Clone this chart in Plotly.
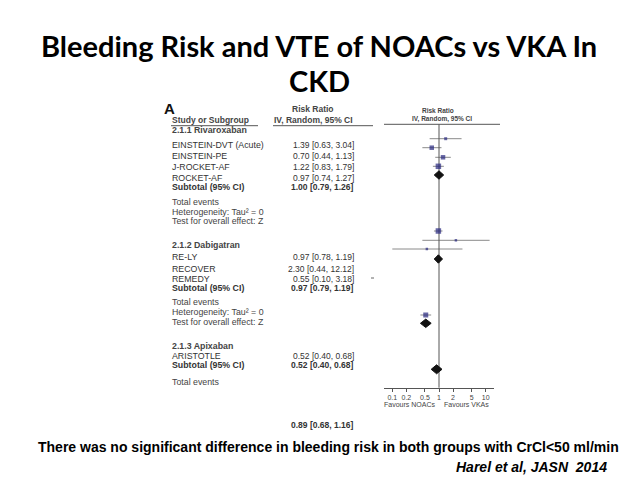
import plotly.graph_objects as go

W, H = 638, 478

# ---------------- data ----------------
studies = ["EINSTEIN-DVT (Acute)", "EINSTEIN-PE", "J-ROCKET-AF", "ROCKET-AF",
           "RE-LY", "RECOVER", "REMEDY", "ARISTOTLE"]
rr = [1.39, 0.70, 1.22, 0.97, 0.97, 2.30, 0.55, 0.52]
lo = [0.63, 0.44, 0.83, 0.74, 0.78, 0.44, 0.10, 0.40]
hi = [3.04, 1.13, 1.79, 1.27, 1.19, 12.12, 3.18, 0.68]

subgroups = ["2.1.1 Rivaroxaban", "2.1.2 Dabigatran", "2.1.3 Apixaban"]
sub_rr = [1.00, 0.97, 0.52]
sub_lo = [0.79, 0.79, 0.40]
sub_hi = [1.26, 1.19, 0.68]

overall_rr, overall_lo, overall_hi = 0.89, 0.68, 1.16

tick_vals = [0.1, 0.2, 0.5, 1, 2, 5, 10]
tick_labels = ["0.1", "0.2", "0.5", "1", "2", "5", "10"]

# ---------------- layout helpers ----------------
def px(x):
    return x / W

def py(y):
    return 1 - y / H

def fmt(r, l, h):
    return f"{r:.2f} [{l:.2f}, {h:.2f}]"

# row positions (pixel rows in the picture)
forest_study_rows = [138.7, 147.7, 157.3, 166.3, 231, 240.3, 249, 315]
forest_sub_rows = [175, 259, 323.3]
forest_overall_row = 369.3
marker_sizes = [3, 4.5, 4.5, 5.5, 5.5, 2.5, 2.5, 5]

table_study_rows = [145, 155.6, 166.5, 177.6, 256.6, 268.6, 279.2, 356.4]
table_sub_head_rows = [130, 245, 346]
table_subtotal_rows = [186.8, 288, 365.4]
overall_text_row = 425

AX_L, AX_R = 384, 494
X1 = 439.0
DEC = 46.7
log_range = [(AX_L - X1) / DEC, (AX_R - X1) / DEC]

fig = go.Figure()

# CI lines
cx, cy = [], []
for l, h, y in zip(lo, hi, forest_study_rows):
    cx += [l, h, None]
    cy += [y, y, None]
fig.add_trace(go.Scatter(x=cx, y=cy, mode="lines",
                         line=dict(color="#8a8a8a", width=1), hoverinfo="skip"))

# line of no effect
fig.add_trace(go.Scatter(x=[1, 1], y=[124.3, 387.7], mode="lines",
                         line=dict(color="#555555", width=1), hoverinfo="skip"))

# study squares
fig.add_trace(go.Scatter(x=rr, y=forest_study_rows, mode="markers",
                         marker=dict(symbol="square", size=marker_sizes,
                                     color="#26267f", line=dict(width=0)),
                         text=studies, hoverinfo="text+x"))

# diamonds
def diamond(r, l, h, y, hh=4.2):
    fig.add_trace(go.Scatter(x=[l, r, h, r, l], y=[y, y - hh, y, y + hh, y],
                             mode="lines", fill="toself", fillcolor="#111111",
                             line=dict(color="#111111", width=1), hoverinfo="skip"))

for r, l, h, y in zip(sub_rr, sub_lo, sub_hi, forest_sub_rows):
    diamond(r, l, h, y)
diamond(overall_rr, overall_lo, overall_hi, forest_overall_row, 4.5)

ann = []
TF = "Liberation Sans, Arial, sans-serif"

def txt(x, y, s, size=8, bold=False, color="#333333", anchor="left", family=TF, italic=False):
    if bold:
        s = f"<b>{s}</b>"
    if italic:
        s = f"<i>{s}</i>"
    ann.append(dict(x=px(x), y=py(y), xref="paper", yref="paper", text=s,
                    showarrow=False, xanchor=anchor, yanchor="middle",
                    font=dict(family=family, size=size, color=color),
                    borderpad=0))

# title
TITLE_F = "Lato, Open Sans, sans-serif"
txt(319, 46, "Bleeding Risk and VTE of NOACs vs VKA In", 29, True, "#000000", "center", TITLE_F)
txt(319, 81, "CKD", 29, True, "#000000", "center", TITLE_F)

NF = 8.8    # study/label font
VF = 8.5    # value font

# table header
txt(163, 108, "A", 15, True, "#111111")
txt(313, 109, "Risk Ratio", 8.5, True, "#444444", "center")
txt(171, 120, "Study or Subgroup", 8.5, True, "#444444")
txt(313, 120, "IV, Random, 95% CI", 8.5, True, "#444444", "center")
txt(438, 110, "Risk Ratio", 6.5, True, "#444444", "center")
txt(441.5, 119, "IV, Random, 95% CI", 6.5, True, "#444444", "center")

VX = 355
for s, r, l, h, y in zip(studies, rr, lo, hi, table_study_rows):
    txt(171, y, s, NF, False, "#333333")
    txt(VX, y, fmt(r, l, h), VF, False, "#333333", "right")

for g, y in zip(subgroups, table_sub_head_rows):
    txt(171, y, g, NF, True, "#444444")

for r, l, h, y in zip(sub_rr, sub_lo, sub_hi, table_subtotal_rows):
    txt(171, y, "Subtotal (95% CI)", NF, True, "#333333")
    txt(VX, y, fmt(r, l, h), VF, True, "#333333", "right")

for base in [201.6, 302.4]:
    txt(171, base, "Total events", NF, False, "#444444")
    txt(171, base + 10, "Heterogeneity: Tau² = 0", NF, False, "#444444")
    txt(171, base + 19.7, "Test for overall effect: Z", NF, False, "#444444")
txt(171, 381.6, "Total events", NF, False, "#444444")

txt(VX, overall_text_row, fmt(overall_rr, overall_lo, overall_hi), VF, True, "#333333", "right")

# favours labels
txt(436, 404, "Favours NOACs", 7, False, "#444444", "right")
txt(442.5, 404, "Favours VKAs", 7, False, "#444444", "left")

# bottom text
txt(328, 447, "There was no significant difference in bleeding risk in both groups with CrCl&lt;50 ml/min",
    14, True, "#000000", "center", "Liberation Sans, Arial, sans-serif")
txt(608, 467, "Harel et al, JASN  2014", 14, True, "#000000", "right",
    "Liberation Sans, Arial, sans-serif", italic=True)

shapes = [
    dict(type="line", xref="paper", yref="paper", x0=px(171), x1=px(258), y0=py(125.7), y1=py(125.7),
         line=dict(color="#555555", width=1)),
    dict(type="line", xref="paper", yref="paper", x0=px(273), x1=px(373), y0=py(125.7), y1=py(125.7),
         line=dict(color="#555555", width=1)),
    dict(type="line", xref="paper", yref="paper", x0=px(384), x1=px(500), y0=py(124.3), y1=py(124.3),
         line=dict(color="#555555", width=1)),
    dict(type="line", xref="paper", yref="paper", x0=px(371), x1=px(374), y0=py(278), y1=py(278),
         line=dict(color="#666666", width=1)),
]

fig.update_layout(
    width=W, height=H,
    margin=dict(l=0, r=0, t=0, b=0),
    paper_bgcolor="white", plot_bgcolor="rgba(0,0,0,0)",
    showlegend=False,
    annotations=ann, shapes=shapes,
    xaxis=dict(type="log", range=log_range, domain=[px(AX_L), px(AX_R)],
               anchor="free", position=py(387.7),
               tickvals=tick_vals, ticktext=tick_labels,
               showline=True, linecolor="#555555", linewidth=1,
               ticks="outside", ticklen=3, tickcolor="#555555",
               tickfont=dict(family=TF, size=7, color="#444444"),
               showgrid=False, zeroline=False, fixedrange=True),
    yaxis=dict(range=[H, 0], domain=[0, 1], visible=False, showgrid=False,
               zeroline=False, fixedrange=True),
)

fig.write_html("out.html")
